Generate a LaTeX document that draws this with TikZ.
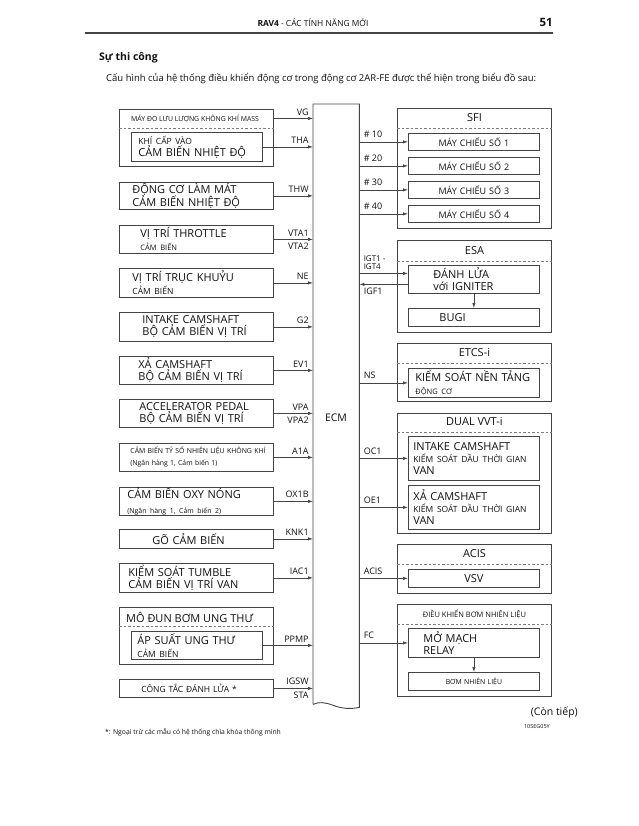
\documentclass[tikz,border=0pt]{standalone}
\usepackage{fontspec}
\setmainfont{Open Sans}
\usetikzlibrary{arrows.meta,positioning}
\definecolor{linegray}{HTML}{444444}
\definecolor{inkgray}{HTML}{111111}
\newcommand\fbig{\fontsize{11}{12}\selectfont}
\newcommand\fmid{\fontsize{8.5}{10}\selectfont}
\newcommand\fsml{\fontsize{7.5}{9}\selectfont}
\newcommand\ftin{\fontsize{6.9}{12}\selectfont}
\lineskiplimit=-20pt

\begin{document}
\begin{tikzpicture}[
    x=1pt, y=-1pt,
    >={Latex[length=5pt,width=3.4pt]},
    every node/.append style={text=inkgray},
    txt/.style={inner sep=0pt},
    box/.style={
        draw=linegray,
        line width=0.8pt,
        anchor=north west,
        inner ysep=0pt,
        align=left,
        font=\fbig
    },
    lbox/.style={box, minimum width=154pt, inner xsep=#1, text width={154pt-2*#1}},
    lbox/.default=10pt,
    ibox/.style={box, minimum width=131pt, inner xsep=#1, text width={131pt-2*#1}},
    ibox/.default=5pt,
    cbox/.style={box, minimum width=131pt, inner xsep=0pt, text width=131pt, align=center, font=\fontsize{9}{10}\selectfont},
    obox/.style={draw=linegray, line width=0.9pt, anchor=north west, minimum width=154pt, inner sep=0pt},
    ttl/.style={txt, font=\fbig},
    sep/.style={draw=linegray!70, dash pattern=on 2.5pt off 2pt, line width=0.6pt},
    sig/.style={draw=linegray, line width=0.7pt},
    lbl/.style={txt, font=\fontsize{9}{10}\selectfont}
]
    \fill[white] (0,0) rectangle (638,826);
    \useasboundingbox (0,0) rectangle (638,826);

    \node[txt, font=\fontsize{8.4}{10}\selectfont] (head) at (313,23) {\textbf{RAV4} - CÁC TÍNH NĂNG MỚI};
    \node[txt, font=\bfseries\fontsize{11.5}{13}\selectfont, anchor=east] (page) at (553,22) {51};
    \draw[linegray, line width=1.8pt] (85,33) -- (553,33);

    \node[txt, font=\bfseries\fontsize{10.5}{12}\selectfont, anchor=west] (title) at (99,58) {Sự thi công};
    \node[txt, font=\fontsize{9.5}{11}\selectfont, anchor=west] (intro) at (106,79)
        {Cấu hình của hệ thống điều khiển động cơ trong động cơ 2AR-FE được thể hiện trong biểu đồ sau:};

    \node[inner sep=0pt, minimum width=46pt, minimum height=600pt, anchor=north west] (ecm) at (313,104) {};
    \draw[sig, line width=0.9pt] (ecm.south west) -- (ecm.north west) -- (ecm.north east) -- ([yshift=-3pt]ecm.south east)
        .. controls +(-10pt,-2pt) and +(8pt,-3pt) .. ([xshift=-26pt,yshift=-1pt]ecm.south east)
        .. controls +(-8pt,3pt) and +(6pt,3pt) .. (ecm.south west);
    \node[txt, font=\fontsize{10.5}{12}\selectfont] (ecmT) at (336,418) {ECM};

    \node[obox, minimum height=57pt] (maf) at (119,109) {};
    \node[txt, font=\ftin, anchor=west] (mafT) at (131,119) {MÁY ĐO LƯU LƯỢNG KHÔNG KHÍ MASS};
    \draw[sep] ([yshift=-19pt]maf.north west) -- ([yshift=-19pt]maf.north east);
    \node[ibox=7pt, minimum height=29pt] (tha) at (131,132) {{\fmid KHÍ CẤP VÀO}\\CẢM BIẾN NHIỆT ĐỘ};

    \node[lbox=13pt, minimum height=27pt] (thw) at (119,182) {ĐỘNG CƠ LÀM MÁT\\CẢM BIẾN NHIỆT ĐỘ};

    \node[lbox=21pt, minimum height=28pt] (vta) at (119,225) {VỊ TRÍ THROTTLE\\[1pt]{\fsml CẢM BIẾN}};

    \node[lbox=13pt, minimum height=29pt] (ne) at (119,268) {VỊ TRÍ TRỤC KHUỶU\\[1pt]{\fmid CẢM BIẾN}};

    \node[lbox=23pt, minimum height=29pt] (g2) at (119,312) {INTAKE CAMSHAFT\\BỘ CẢM BIẾN VỊ TRÍ};

    \node[lbox=19pt, minimum height=28pt] (ev1) at (119,356) {XẢ CAMSHAFT\\BỘ CẢM BIẾN VỊ TRÍ};

    \node[lbox=20pt, minimum height=28pt] (vpa) at (119,399) {ACCELERATOR PEDAL\\BỘ CẢM BIẾN VỊ TRÍ};

    \node[lbox=11pt, minimum height=28pt, font=\ftin] (a1a) at (119,443)
        {\mbox{CẢM BIẾN TỶ SỐ NHIÊN LIỆU KHÔNG KHÍ}\\\mbox{(Ngân hàng 1, Cảm biến 1)}};

    \node[lbox=8pt, minimum height=28pt] (ox1b) at (119,487) {CẢM BIẾN OXY NÓNG\\[3pt]{\ftin (Ngân hàng 1, Cảm biến 2)}};

    \node[lbox=33pt, minimum height=19pt] (knk) at (119,529) {GÕ CẢM BIẾN};

    \node[lbox=9pt, minimum height=29pt] (iac) at (119,563) {KIỂM SOÁT TUMBLE\\CẢM BIẾN VỊ TRÍ VAN};

    \node[obox, minimum height=57pt] (pmod) at (119,607) {};
    \node[ttl, anchor=west] (pmodT) at (126,617) {MÔ ĐUN BƠM UNG THƯ};
    \draw[sep] ([yshift=-19pt]pmod.north west) -- ([yshift=-19pt]pmod.north east);
    \node[ibox=6pt, minimum height=28pt] (ppmp) at (131,631) {ÁP SUẤT UNG THƯ\\[1pt]{\fmid CẢM BIẾN}};

    \node[lbox=22pt, minimum height=18pt, font=\fmid] (igsw) at (119,679) {CÔNG TẮC ĐÁNH LỬA *};

    \coordinate (vgS) at ([yshift=-9.5pt]maf.north east);
    \draw[sig, ->] (vgS) -- (vgS -| ecm.west) node[lbl, above left=3pt and 4pt] (vg) {VG};
    \draw[sig, ->] (tha.east) -- (tha.east -| ecm.west) node[lbl, above left=3pt and 4pt] (thaL) {THA};
    \draw[sig, ->] (thw.east) -- (thw.east -| ecm.west) node[lbl, above left=3pt and 4pt] (thwL) {THW};
    \draw[sig, ->] (vta.east) -- (vta.east -| ecm.west) node[lbl, above left=3pt and 4pt] (vta1) {VTA1}
        node[lbl, below left=3.5pt and 4pt] (vta2) {VTA2};
    \draw[sig, ->] (ne.east) -- (ne.east -| ecm.west) node[lbl, above left=3pt and 4pt] (neL) {NE};
    \draw[sig, ->] (g2.east) -- (g2.east -| ecm.west) node[lbl, above left=3pt and 4pt] (g2L) {G2};
    \draw[sig, ->] (ev1.east) -- (ev1.east -| ecm.west) node[lbl, above left=3pt and 4pt] (ev1L) {EV1};
    \draw[sig, ->] (vpa.east) -- (vpa.east -| ecm.west) node[lbl, above left=3pt and 4pt] (vpa1) {VPA}
        node[lbl, below left=3.5pt and 4pt] (vpa2) {VPA2};
    \draw[sig, ->] (a1a.east) -- (a1a.east -| ecm.west) node[lbl, above left=3pt and 4pt] (a1aL) {A1A};
    \draw[sig, ->] (ox1b.east) -- (ox1b.east -| ecm.west) node[lbl, above left=3pt and 4pt] (ox1bL) {OX1B};
    \draw[sig, ->] (knk.east) -- (knk.east -| ecm.west) node[lbl, above left=3pt and 4pt] (knkL) {KNK1};
    \draw[sig, ->] (iac.east) -- (iac.east -| ecm.west) node[lbl, above left=3pt and 4pt] (iacL) {IAC1};
    \draw[sig, ->] (ppmp.east) -- (ppmp.east -| ecm.west) node[lbl, above left=3pt and 4pt] (ppmpL) {PPMP};
    \draw[sig, ->] (igsw.east) -- (igsw.east -| ecm.west) node[lbl, above left=3pt and 4pt] (igswL) {IGSW}
        node[lbl, below left=3.5pt and 4pt] (staL) {STA};

    \node[obox, minimum height=120pt] (sfi) at (397,108) {};
    \node[ttl] (sfiT) at ([yshift=-10pt]sfi.north) {SFI};
    \draw[sep] ([yshift=-20pt]sfi.north west) -- ([yshift=-20pt]sfi.north east);
    \node[cbox, minimum height=17pt] (inj1) at (408,133) {MÁY CHIẾU SỐ 1};
    \node[cbox, minimum height=17pt] (inj2) at (408,157) {MÁY CHIẾU SỐ 2};
    \node[cbox, minimum height=17pt] (inj3) at (408,181) {MÁY CHIẾU SỐ 3};
    \node[cbox, minimum height=17pt] (inj4) at (408,205) {MÁY CHIẾU SỐ 4};

    \node[obox, minimum height=92pt] (esa) at (397,240) {};
    \node[ttl] (esaT) at ([yshift=-11pt]esa.north) {ESA};
    \draw[sep] ([yshift=-21pt]esa.north west) -- ([yshift=-21pt]esa.north east);
    \node[ibox=25pt, minimum height=28pt] (ign) at (408,265) {ĐÁNH LỬA\\với IGNITER};
    \node[ibox=31pt, minimum height=18pt] (bugi) at (408,308) {BUGI};

    \node[obox, minimum height=58pt] (etcs) at (397,343) {};
    \node[ttl] (etcsT) at ([yshift=-10pt]etcs.north) {ETCS-i};
    \draw[sep] ([yshift=-20pt]etcs.north west) -- ([yshift=-20pt]etcs.north east);
    \node[ibox=7pt, minimum height=29pt] (thr) at (408,368) {KIỂM SOÁT NỀN TẢNG\\[1pt]{\fsml ĐỘNG CƠ}};

    \node[obox, minimum height=120pt] (vvt) at (397,413) {};
    \node[ttl] (vvtT) at ([yshift=-9pt]vvt.north) {DUAL VVT-i};
    \draw[sep] ([yshift=-19pt]vvt.north west) -- ([yshift=-19pt]vvt.north east);
    \node[ibox=5pt, minimum height=44pt] (ocv1) at (408,436) {INTAKE CAMSHAFT\\{\fmid KIỂM SOÁT DẦU THỜI GIAN}\\VAN};
    \node[ibox=5pt, minimum height=44pt] (ocv2) at (408,485) {XẢ CAMSHAFT\\{\fmid KIỂM SOÁT DẦU THỜI GIAN}\\VAN};

    \node[obox, minimum height=49pt] (acis) at (397,544) {};
    \node[ttl] (acisT) at ([yshift=-10pt]acis.north) {ACIS};
    \draw[sep] ([yshift=-20pt]acis.north west) -- ([yshift=-20pt]acis.north east);
    \node[cbox, minimum height=18pt, font=\fbig] (vsv) at (408,569) {VSV};

    \node[obox, minimum height=92pt] (fpc) at (397,604) {};
    \node[txt, font=\fsml] (fpcT) at ([yshift=-10pt]fpc.north) {ĐIỀU KHIỂN BƠM NHIÊN LIỆU};
    \draw[sep] ([yshift=-20pt]fpc.north west) -- ([yshift=-20pt]fpc.north east);
    \node[ibox=15pt, minimum height=29pt] (relay) at (408,628) {MỞ MẠCH\\RELAY};
    \node[cbox, minimum height=18pt, font=\ftin] (pump) at (408,672) {BƠM NHIÊN LIỆU};

    \draw[sig, ->] (inj1.west -| ecm.east) node[lbl, above right=3.5pt and 4pt] (s10) {\# 10} -- (inj1.west);
    \draw[sig, ->] (inj2.west -| ecm.east) node[lbl, above right=3.5pt and 4pt] (s20) {\# 20} -- (inj2.west);
    \draw[sig, ->] (inj3.west -| ecm.east) node[lbl, above right=3.5pt and 4pt] (s30) {\# 30} -- (inj3.west);
    \draw[sig, ->] (inj4.west -| ecm.east) node[lbl, above right=3.5pt and 4pt] (s40) {\# 40} -- (inj4.west);

    \coordinate (igtE) at ([yshift=6pt]ign.west);
    \coordinate (igfE) at ([yshift=-5pt]ign.west);
    \draw[sig, ->] (igtE -| ecm.east) node[lbl, above right=3pt and 4pt, align=left, font=\fontsize{8}{8.5}\selectfont] (igt) {IGT1 -\\IGT4} -- (igtE);
    \draw[sig, ->] (igfE) -- (igfE -| ecm.east) node[lbl, below right=3pt and 4pt] (igf) {IGF1};
    \draw[sig, ->] (ign) -- (bugi);

    \draw[sig, ->] (thr.west -| ecm.east) node[lbl, above right=3.5pt and 4pt] (ns) {NS} -- (thr.west);
    \draw[sig, ->] (ocv1.west -| ecm.east) node[lbl, above right=3.5pt and 4pt] (oc1) {OC1} -- (ocv1.west);
    \draw[sig, ->] (ocv2.west -| ecm.east) node[lbl, above right=3.5pt and 4pt] (oe1) {OE1} -- (ocv2.west);
    \draw[sig, ->] (vsv.west -| ecm.east) node[lbl, above right=3.5pt and 4pt] (acisL) {ACIS} -- (vsv.west);
    \draw[sig, ->] (relay.west -| ecm.east) node[lbl, above right=3.5pt and 4pt] (fc) {FC} -- (relay.west);
    \draw[sig, ->] (relay) -- (pump);

    \node[txt, font=\fontsize{10.5}{12}\selectfont, anchor=east] (cont) at (578,712) {(Còn tiếp)};
    \node[txt, font=\fontsize{5.5}{6}\selectfont, anchor=east] (code) at (550,727) {10SEG05Y};
    \node[txt, font=\fontsize{6.8}{8}\selectfont, anchor=west] (note) at (105,732)
        {*: Ngoại trừ các mẫu có hệ thống chìa khóa thông minh};
\end{tikzpicture}
\end{document}
